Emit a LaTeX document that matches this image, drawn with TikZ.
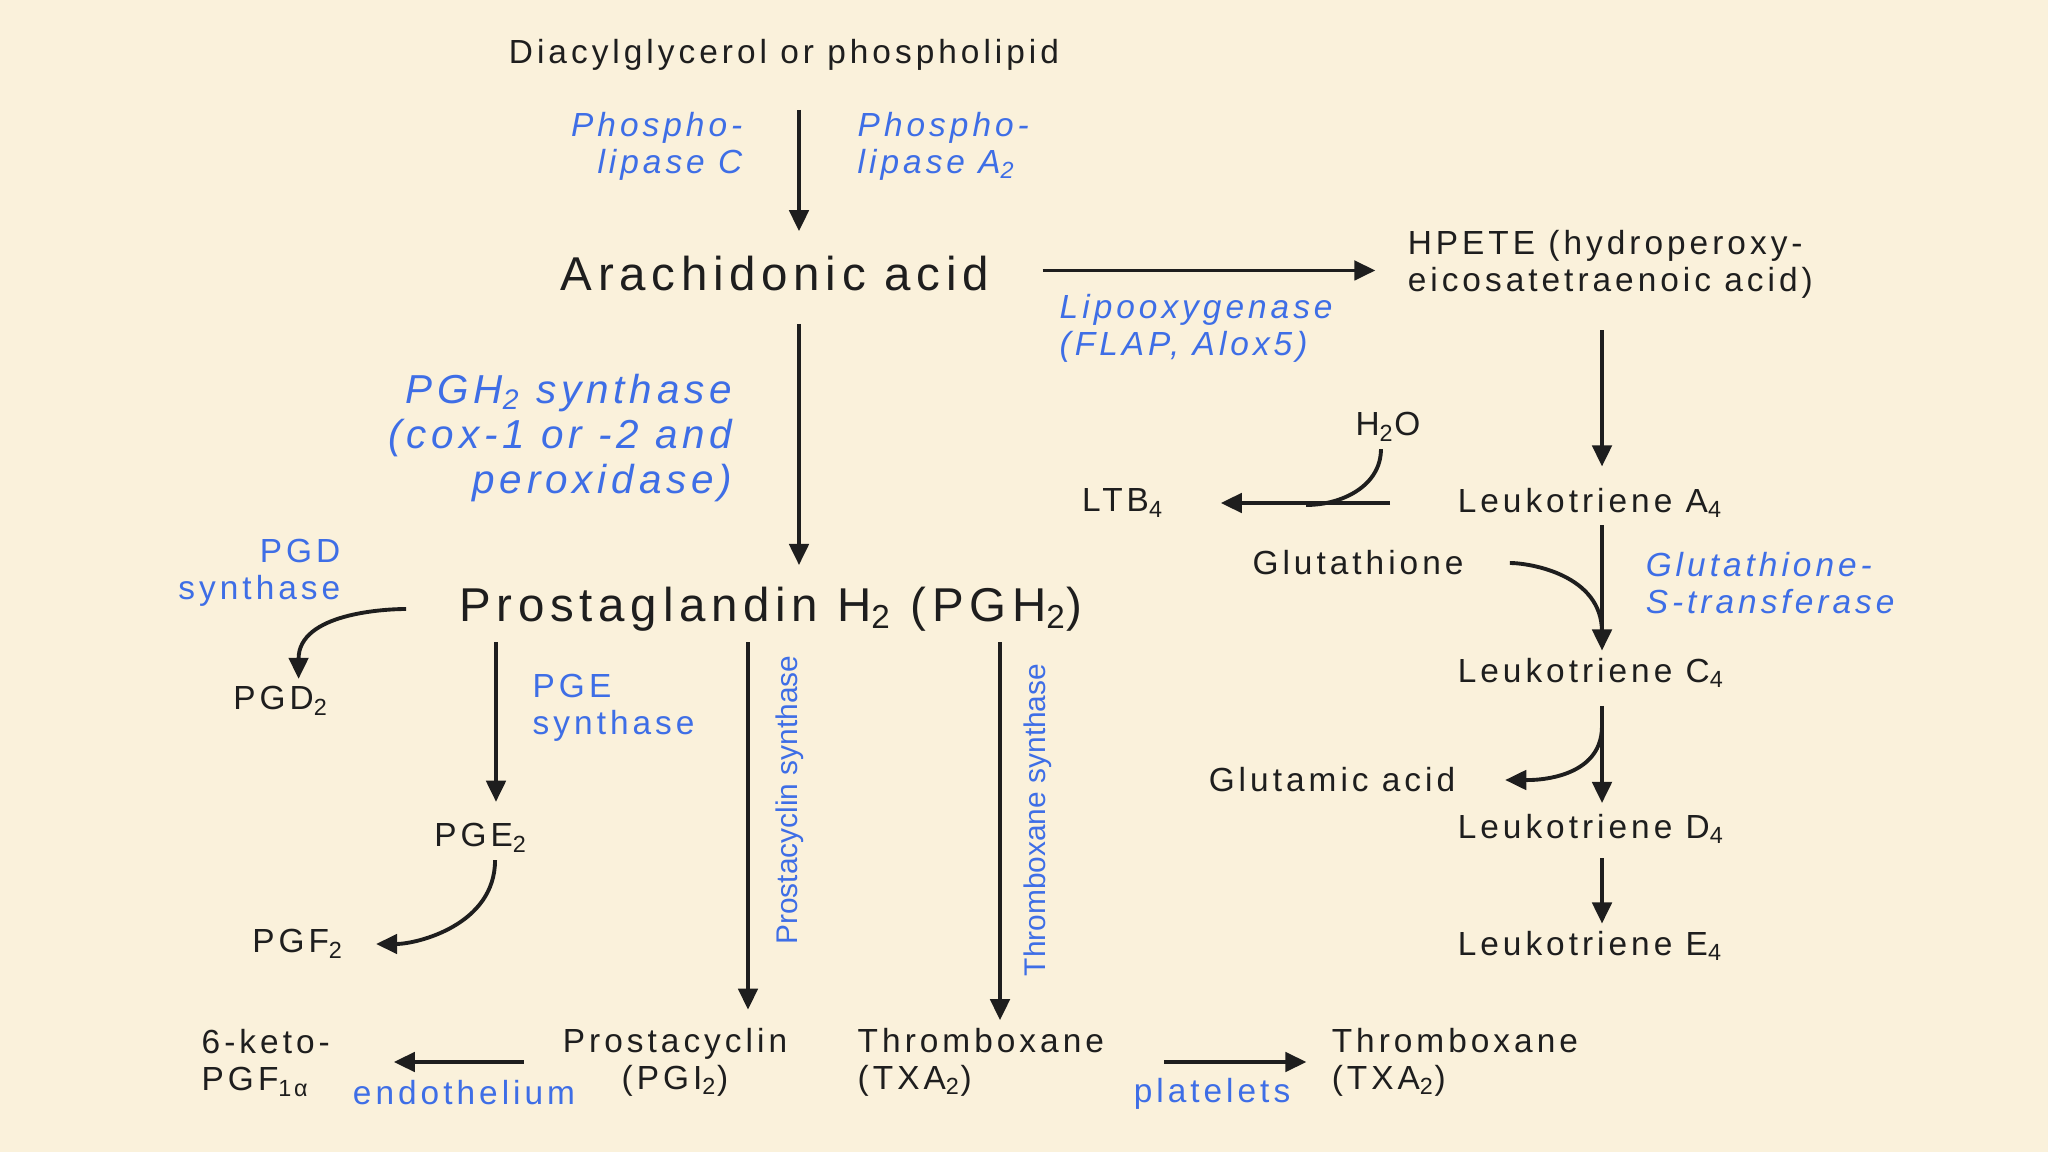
\documentclass[tikz,border=0pt]{standalone}
\usepackage{fontspec}
\setmainfont[LetterSpace=12]{Liberation Sans}
\newfontfamily\narrowfont{Liberation Sans}
\usetikzlibrary{arrows.meta,positioning,calc}
\definecolor{paper}{RGB}{250,241,219}
\definecolor{enz}{RGB}{62,110,230}
\definecolor{ink}{RGB}{30,30,30}

\begin{document}
\begin{tikzpicture}[x=0.01cm, y=-0.01cm, >={Triangle[length=6pt,width=5.5pt]},
  ln/.style={line width=1.1pt, draw=ink},
  arr/.style={ln, ->},
  sm/.style={font=\fontsize{9.5}{10.5}\selectfont, text=ink, inner sep=2pt},
  bg/.style={font=\fontsize{13.5}{15}\selectfont, text=ink, inner sep=2pt},
  enzs/.style={font=\fontsize{9.5}{10.5}\selectfont\itshape, text=enz, inner sep=2pt},
  enzb/.style={font=\fontsize{11.5}{12.8}\selectfont\itshape, text=enz, inner sep=2pt, align=right},
  site/.style={font=\fontsize{9.5}{10.5}\selectfont, text=enz, inner sep=2pt},
  vert/.style={font=\narrowfont\fontsize{8.5}{10}\selectfont, text=enz, rotate=90, inner sep=1pt}]
  \fill[paper] (0,0) rectangle (2048,1152);
  % columns of the straight arrows
  \coordinate (colA) at (799,0);
  \coordinate (colL) at (1602,0);
  \coordinate (colE) at (496,0);
  \coordinate (colP) at (748,0);
  \coordinate (colT) at (1000,0);
  % top
  \node[sm] (diag) at (784,55) {Diacylglycerol or phospholipid};
  \node[enzs, align=right, anchor=east] (plc) at (750,146) {Phospho-\\lipase C};
  \node[enzs, align=left, anchor=west] (pla) at (850,146) {Phospho-\\lipase A\textsubscript{2}};
  \node[bg] (ara) at (775,274) {Arachidonic acid};
  \draw[arr, shorten <=9pt, shorten >=5pt] (diag.south -| colA) -- (ara.north -| colA);
  % lipoxygenase branch
  \node[sm, align=left, anchor=west] (hpete) at (1400,264) {HPETE (hydroperoxy-\\eicosatetraenoic acid)};
  \node[enzs, align=left, anchor=west] (lox) at (1052,328) {Lipooxygenase\\(FLAP, Alox5)};
  \draw[arr, shorten <=13pt, shorten >=7pt] ([yshift=1pt]ara.east) -- ([yshift=1pt]ara.east -| hpete.west);
  \node[sm] (h2o) at (1388,427) {H\textsubscript{2}O};
  \node[sm, anchor=west] (lta) at (1450,503) {Leukotriene A\textsubscript{4}};
  \node[sm] (ltb) at (1123,503) {LTB\textsubscript{4}};
  \node[sm] (glut) at (1358,563) {Glutathione};
  \node[enzs, align=left, anchor=west] (gst) at (1638,583) {Glutathione-\\S-transferase};
  \node[sm, anchor=west] (ltc) at (1450,673) {Leukotriene C\textsubscript{4}};
  \node[sm] (glu) at (1332,780) {Glutamic acid};
  \node[sm, anchor=west] (ltd) at (1450,829) {Leukotriene D\textsubscript{4}};
  \node[sm, anchor=west] (lte) at (1450,946) {Leukotriene E\textsubscript{4}};
  \coordinate (mB) at (1306,505);
  \coordinate (mC) at (1602,632);
  \coordinate (mD) at (1602,726);
  \draw[arr, shorten <=7pt, shorten >=4pt] (hpete.south -| colL) -- (lta.north -| colL);
  \draw[arr, shorten <=17pt, shorten >=14pt] (lta.west) -- (ltb.east);
  \draw[ln] ([xshift=-2pt]h2o.south) to[out=-90, in=0] (mB);
  \draw[arr] (lta.south -| colL) -- (ltc.north -| colL);
  \draw[ln, shorten <=11pt] (glut.east) to[out=0, in=90] (mC);
  \draw[arr, shorten <=3pt, shorten >=1pt] (ltc.south -| colL) -- (ltd.north -| colL);
  \draw[arr, shorten >=12pt] (mD) to[out=-90, in=0] (glu.east);
  \draw[arr, shorten <=2pt] (ltd.south -| colL) -- (lte.north -| colL);
  % cyclooxygenase branch
  \node[enzb, anchor=east] (cox) at (740,438) {PGH\textsubscript{2} synthase\\(cox-1 or -2 and\\peroxidase)};
  \node[bg] (pgh) at (771,609) {Prostaglandin H\textsubscript{2} (PGH\textsubscript{2})};
  \draw[arr, shorten <=7pt, shorten >=4pt] (ara.south -| colA) -- (pgh.north -| colA);
  \node[site, align=right, anchor=east] (pgds) at (348,573) {PGD\\synthase};
  \node[sm] (pgd) at (281,701) {PGD\textsubscript{2}};
  \draw[arr, shorten <=13pt] (pgh.west) to[out=180, in=90] ([xshift=5pt]pgd.north);
  \node[site, align=left, anchor=west] (pges) at (525,708) {PGE\\synthase};
  \node[sm] (pge) at (481,838) {PGE\textsubscript{2}};
  \node[sm] (pgf) at (298,944) {PGF\textsubscript{2}};
  \draw[arr, shorten <=1pt, shorten >=4pt] (pgh.south -| colE) -- (pge.north -| colE);
  \draw[arr, shorten >=7pt] ([xshift=4pt]pge.south) to[out=-90, in=0] (pgf.east);
  \node[sm, align=center] (pgi) at (675,1062) {Prostacyclin\\(PGI\textsubscript{2})};
  \node[sm, align=left, anchor=west] (txa) at (850,1062) {Thromboxane\\(TXA\textsubscript{2})};
  \node[vert] (pcs) at (790,800) {Prostacyclin synthase};
  \node[vert] (txs) at (1038,820) {Thromboxane synthase};
  \draw[arr, shorten <=1pt, shorten >=3pt] (pgh.south -| colP) -- (pgi.north -| colP);
  \draw[arr, shorten <=1pt] (pgh.south -| colT) -- (txa.north -| colT);
  % bottom row
  \node[sm, align=left, anchor=west] (keto) at (194,1063) {6-keto-\\PGF\textsubscript{1α}};
  \node[site] (endo) at (464,1093) {endothelium};
  \draw[arr, shorten <=9pt, shorten >=16pt] (pgi.west) -- (pgi.west -| keto.east);
  \node[sm, align=left, anchor=west] (txb) at (1324,1062) {Thromboxane\\(TXA\textsubscript{2})};
  \node[site] (plat) at (1212,1094) {platelets};
  \draw[arr, shorten <=15pt, shorten >=5pt] (txa.east) -- (txa.east -| txb.west);
\end{tikzpicture}
\end{document}
